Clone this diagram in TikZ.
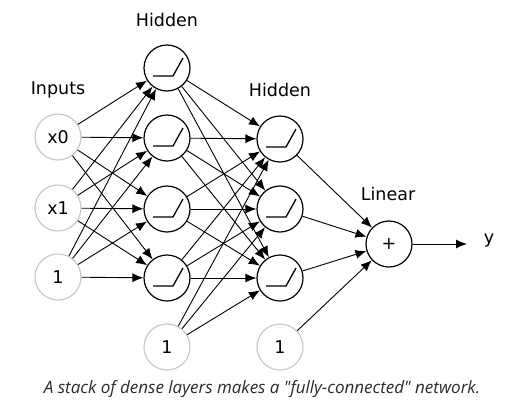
\documentclass[tikz,border=0pt]{standalone}
\usepackage{fontspec}
\setmainfont{DejaVu Sans}
\newfontfamily\capfont{Open Sans}
\usepackage{tikz}
\usetikzlibrary{arrows.meta}
\definecolor{lightring}{HTML}{C8C8C8}
\definecolor{captext}{HTML}{2A2A2A}

\tikzset{
	neuron/.style={circle,draw,line width=1.2pt,minimum size=46pt,inner sep=0pt,font=\fontsize{17.5}{21}\selectfont},
	inunit/.style={neuron,draw=lightring},
	reluunit/.style={neuron,path picture={
		\draw[line width=1.3pt] ([shift={(-14pt,-8pt)}]path picture bounding box.center) -- ++(20pt,0pt) -- ++(10pt,18pt);}},
	edge/.style={line width=0.9pt,-{Latex[length=11pt,width=9pt]}},
	layerlabel/.style={font=\fontsize{17.5}{21}\selectfont}
}

\begin{document}
\begin{tikzpicture}[x=1pt,y=-1pt]
	\useasboundingbox (0,0) rectangle (527,410);
	% inputs
	\node[inunit] (x0) at (58,137) {x0};
	\node[inunit] (x1) at (58,208) {x1};
	\node[inunit] (b0) at (58,277) {1};
	% first hidden layer
	\foreach \j/\yy in {1/68,2/138,3/209,4/278}
		\node[reluunit] (h\j) at (167,\yy) {};
	\node[inunit] (b1) at (167,347) {1};
	% second hidden layer
	\foreach \k/\yy in {1/139,2/209,3/278}
		\node[reluunit] (g\k) at (280,\yy) {};
	\node[inunit] (b2) at (280,347) {1};
	% output
	\node[neuron] (lin) at (389,244) {+};
	\coordinate (yend) at (467,244);
	\node[layerlabel] (ylab) at (489,241) {y};
	% labels
	\node[layerlabel] (lab0) at (58,90) {Inputs};
	\node[layerlabel] (lab1) at (167,20) {Hidden};
	\node[layerlabel] (lab2) at (280,90) {Hidden};
	\node[layerlabel] (lab3) at (388,194) {Linear};
	% connections
	\foreach \i in {x0,x1,b0}
		\foreach \j in {1,...,4}
			\draw[edge] (\i) -- (h\j);
	\foreach \i in {h1,h2,h3,h4,b1}
		\foreach \k in {1,2,3}
			\draw[edge] (\i) -- (g\k);
	\foreach \i in {g1,g2,g3,b2}
		\draw[edge] (\i) -- (lin);
	\draw[edge] (lin) -- (yend);
	% caption
	\node[font=\capfont\itshape\fontsize{17}{20}\selectfont,text=captext] (cap) at (262,389) {A stack of dense layers makes a "fully-connected" network.};
\end{tikzpicture}
\end{document}
